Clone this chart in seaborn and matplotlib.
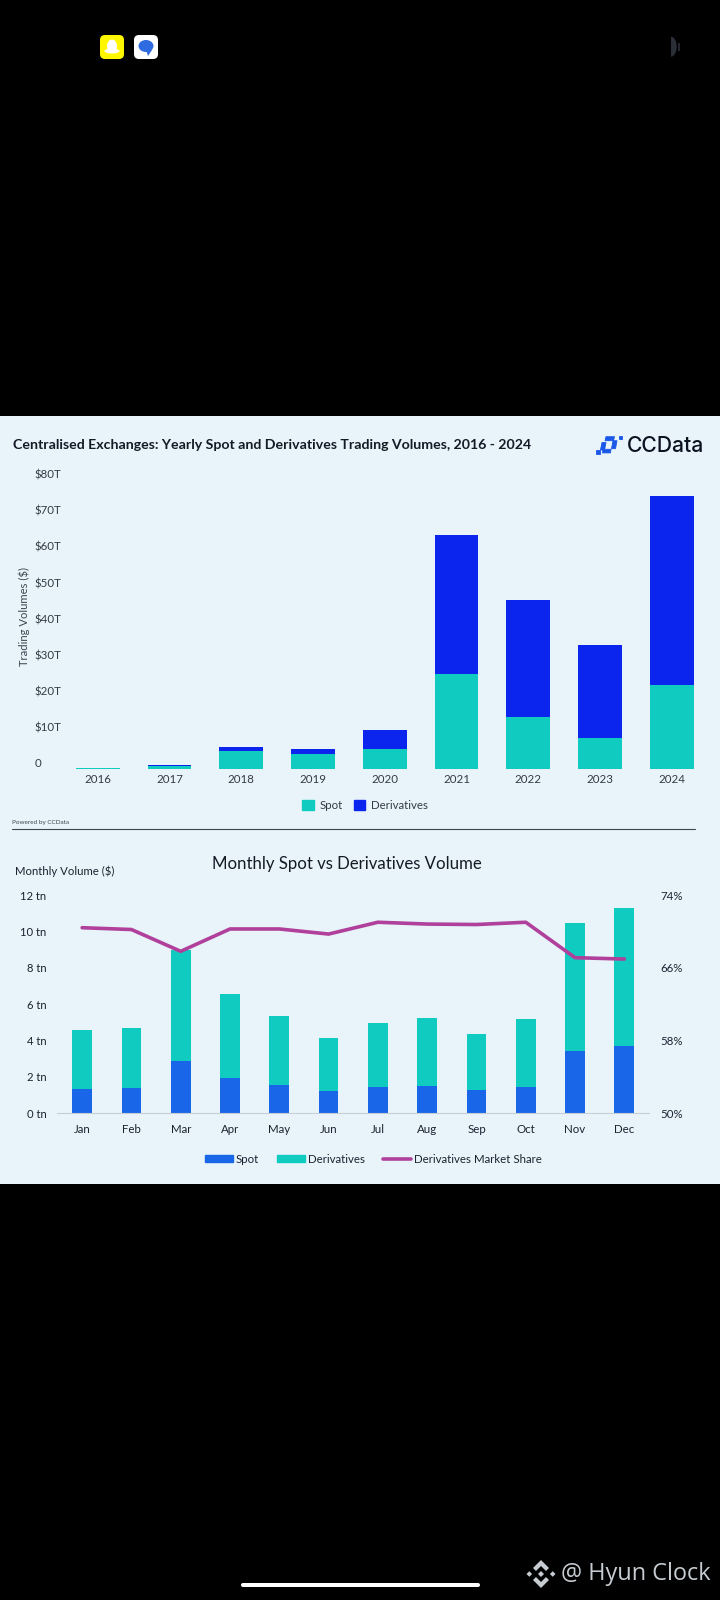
import matplotlib
matplotlib.use('Agg')
import matplotlib.pyplot as plt
import numpy as np
import seaborn as sns
from matplotlib.lines import Line2D
from matplotlib.patches import Rectangle, FancyBboxPatch, Ellipse, Polygon
from matplotlib.transforms import ScaledTranslation

# Yearly chart data (trillions of $)
years = ['2016', '2017', '2018', '2019', '2020', '2021', '2022', '2023', '2024']
yearly_spot = [0.4, 0.8, 5.1, 4.2, 5.6, 26.4, 14.5, 8.7, 23.4]
yearly_derivatives = [0.0, 0.4, 1.0, 1.3, 5.2, 38.6, 32.5, 25.7, 52.5]
yearly_ticks = [0, 10, 20, 30, 40, 50, 60, 70, 80]
yearly_tick_labels = ['0', '$10T', '$20T', '$30T', '$40T', '$50T', '$60T', '$70T', '$80T']

# Monthly chart data (trillions of $, share in %)
months = ['Jan', 'Feb', 'Mar', 'Apr', 'May', 'Jun', 'Jul', 'Aug', 'Sep', 'Oct', 'Nov', 'Dec']
monthly_spot = [1.34, 1.39, 2.88, 1.93, 1.56, 1.23, 1.41, 1.50, 1.25, 1.45, 3.43, 3.69]
monthly_derivatives = [3.23, 3.29, 6.12, 4.62, 3.76, 2.90, 3.54, 3.73, 3.08, 3.72, 7.05, 7.58]
market_share = [70.4, 70.2, 67.8, 70.26, 70.26, 69.7, 71.0, 70.8, 70.75, 71.0, 67.1, 66.95]
volume_ticks = [0, 2, 4, 6, 8, 10, 12]
volume_tick_labels = ['0 tn', '2 tn', '4 tn', '6 tn', '8 tn', '10 tn', '12 tn']
share_ticks = [50, 58, 66, 74]
share_tick_labels = ['50%', '58%', '66%', '74%']

TEAL = '#10CBC0'
NAVY = '#0B25EE'
BLUE = '#1A66E8'
PURPLE = '#B0409C'
PANEL = '#E8F4FA'
INK = '#1c2230'
W, H = 720, 1600

sns.set_theme(style='white')
plt.rcParams['font.family'] = ['Lato', 'DejaVu Sans']

fig = plt.figure(figsize=(7.2, 16), dpi=100, facecolor='black')


# Pixel helpers, measured from the top left of the screenshot
def fx(x):
	return x / W


def fy(y):
	return 1 - y / H


def px_axes(left, top, right, bottom):
	ax = fig.add_axes([fx(left), fy(bottom), (right - left) / W, (bottom - top) / H])
	ax.set_facecolor('none')
	return ax


def put_text(x, y, s, size, **kwargs):
	kwargs.setdefault('color', INK)
	kwargs.setdefault('va', 'center')
	fig.text(fx(x), fy(y), s, fontsize=size, **kwargs)


def put_shape(patch):
	patch.set_transform(overlay.transData)
	overlay.add_patch(patch)


# Screen panel behind both charts
fig.add_artist(Rectangle((0, fy(1184)), 1, (1184 - 416) / H, transform=fig.transFigure,
						 facecolor=PANEL, edgecolor='none', zorder=-1))

# ----------------------------------------------Yearly chart-----------------------------------------------
ax1 = px_axes(61.9, 481, 707.6, 769.3)
yearly_total = np.array(yearly_spot) + np.array(yearly_derivatives)
sns.barplot(x=years, y=yearly_total, color=NAVY, width=0.608, saturation=1, linewidth=0, ax=ax1)
sns.barplot(x=years, y=yearly_spot, color=TEAL, width=0.608, saturation=1, linewidth=0, ax=ax1)
ax1.set_ylim(0, 80)
ax1.set_yticks(yearly_ticks)
ax1.set_yticklabels(yearly_tick_labels, ha='left')
ax1.tick_params(axis='y', length=0, pad=19.8, labelsize=8.3, labelcolor='#333a45')
ax1.tick_params(axis='x', length=0, pad=3.4, labelsize=8.3, labelcolor='#333a45')
# the value labels sit a little above their gridline in the original
for label in ax1.get_yticklabels():
	label.set_transform(label.get_transform() + ScaledTranslation(0, 6.6 / 100, fig.dpi_scale_trans))
sns.despine(ax=ax1, left=True, bottom=True)
ax1.set_xlabel('')
ax1.set_ylabel('')

ax1.legend(handles=[Rectangle((0, 0), 1, 1, color=TEAL, label='Spot'),
					Rectangle((0, 0), 1, 1, color=NAVY, label='Derivatives')],
		   ncol=2, frameon=False, fontsize=8.3, handlelength=1.0, handleheight=1.0, handletextpad=0.45,
		   columnspacing=1.0, loc='center', bbox_to_anchor=(fx(365), fy(805.7)),
		   bbox_transform=fig.transFigure, labelcolor='#333a45')

put_text(13, 445, 'Centralised Exchanges: Yearly Spot and Derivatives Trading Volumes, 2016 - 2024',
		 10.2, fontweight='bold', color='#141a26')
put_text(24, 617, 'Trading Volumes ($)', 8.1, rotation=90, ha='center', color='#3c4450')
put_text(627, 446.5, 'CCData', 15.2, color='#0d1220', fontweight='medium', family=['Inter', 'DejaVu Sans'])
put_text(12.5, 822, 'Powered by CCData', 4.6, color='#3c4450')

# ----------------------------------------------Monthly chart-----------------------------------------------
ax2 = px_axes(57.5, 895, 649, 1113)
monthly_total = np.array(monthly_spot) + np.array(monthly_derivatives)
sns.barplot(x=months, y=monthly_total, color=TEAL, width=0.4, saturation=1, linewidth=0, ax=ax2)
sns.barplot(x=months, y=monthly_spot, color=BLUE, width=0.4, saturation=1, linewidth=0, ax=ax2)
ax2.set_ylim(0, 12)
ax2.set_xlim(-0.5, 11.5)
ax2.set_yticks(volume_ticks)
ax2.set_yticklabels(volume_tick_labels)
ax2.tick_params(axis='y', length=0, pad=8, labelsize=8.1, labelcolor=INK)
ax2.tick_params(axis='x', length=0, pad=7.6, labelsize=8.3, labelcolor=INK)
sns.despine(ax=ax2, left=True)
ax2.spines['bottom'].set_color('#c5ced6')
ax2.spines['bottom'].set_linewidth(0.8)
ax2.set_xlabel('')
ax2.set_ylabel('')

ax3 = ax2.twinx()
ax3.set_facecolor('none')
sns.lineplot(x=months, y=market_share, color=PURPLE, linewidth=2.6, sort=False, ax=ax3,
			 solid_capstyle='round', solid_joinstyle='round')
ax3.set_xlim(-0.5, 11.5)
ax3.set_ylim(50, 74)
ax3.set_yticks(share_ticks)
ax3.set_yticklabels(share_tick_labels, ha='left')
ax3.tick_params(axis='y', length=0, pad=8, labelsize=8.3, labelcolor=INK)
sns.despine(ax=ax3, left=True, right=True, bottom=True)
ax3.set_xlabel('')
ax3.set_ylabel('')

ax2.legend(handles=[Rectangle((0, 0), 1, 1, color=BLUE, label='Spot'),
					Rectangle((0, 0), 1, 1, color=TEAL, label='Derivatives'),
					Line2D([0], [0], color=PURPLE, linewidth=2.6, label='Derivatives Market Share')],
		   ncol=3, frameon=False, fontsize=8.3, handlelength=2.4, handleheight=0.5, handletextpad=0.3,
		   columnspacing=1.55, loc='center', bbox_to_anchor=(fx(373.5), fy(1159.3)),
		   bbox_transform=fig.transFigure, labelcolor=INK)

put_text(212, 864, 'Monthly Spot vs Derivatives Volume', 12.05, color='#141a26')
put_text(14.7, 871, 'Monthly Volume ($)', 8.2)

# Divider between the two charts
fig.add_artist(Line2D([fx(11.5), fx(695)], [fy(829), fy(829)], color='#3c4450', linewidth=0.8))

# ----------------------------------------------Logos and phone chrome-----------------------------------------------
overlay = fig.add_axes([0, 0, 1, 1], zorder=5)
overlay.set_xlim(0, W)
overlay.set_ylim(H, 0)
overlay.axis('off')

# CCData logo blocks
logo_blocks = [
	[(596, 450), (599.5, 450), (599.5, 453.5), (596, 453.5)],
	[(602, 442.5), (606, 442.5), (604.5, 450), (600.5, 450)],
	[(606, 436.7), (614.5, 436.7), (613.5, 440.7), (605, 440.7)],
	[(603, 449.3), (611, 449.3), (610.5, 452.9), (602.5, 452.9)],
	[(613, 440.7), (617, 440.7), (615.5, 448.7), (611.5, 448.7)],
	[(618.7, 436), (621.5, 436), (621.5, 438.8), (618.7, 438.8)],
]
for block in logo_blocks:
	put_shape(Polygon(block, facecolor='#1A57E8', edgecolor='#1A57E8', linewidth=0.6))

# Status bar app icons
put_shape(FancyBboxPatch((103, 38), 18, 18, boxstyle='round,pad=3,rounding_size=5', facecolor='#FFF700', edgecolor='none'))
put_shape(Ellipse((112, 46), 10, 13, facecolor='white', edgecolor='none'))
put_shape(Ellipse((112, 51), 15, 5, facecolor='white', edgecolor='none'))
put_shape(FancyBboxPatch((137, 38), 18, 18, boxstyle='round,pad=3,rounding_size=5', facecolor='white', edgecolor='none'))
put_shape(Ellipse((146, 46), 15, 12, facecolor='#2F6BE0', edgecolor='none'))
put_shape(Polygon([(146, 50), (152, 50), (148, 56)], facecolor='#2F6BE0', edgecolor='none'))

# Battery glyph at the right of the status bar
angles = np.linspace(-np.pi / 2, np.pi / 2, 30)
put_shape(Polygon(np.column_stack([671 + 5.7 * np.cos(angles), 46.7 + 10 * np.sin(angles)]),
				  facecolor='#2a2f38', edgecolor='none'))
put_shape(Rectangle((677.7, 43), 2.3, 8, facecolor='#22262e', edgecolor='none'))

# Home bar and watermark
put_shape(FancyBboxPatch((241, 1583), 239, 4, boxstyle='round,pad=0,rounding_size=2', facecolor='white', edgecolor='none'))
WATERMARK = '#c6ccd2'
for cx, cy, r in [(541, 1574, 3), (529.3, 1574, 2.8), (552.7, 1574, 2.8)]:
	put_shape(Polygon([(cx - r, cy), (cx, cy - r), (cx + r, cy), (cx, cy + r)], facecolor=WATERMARK, edgecolor='none'))
put_shape(Polygon([(541, 1560), (549, 1568), (546, 1571), (541, 1566), (536, 1571), (533, 1568)], facecolor=WATERMARK, edgecolor='none'))
put_shape(Polygon([(541, 1588), (549, 1580), (546, 1577), (541, 1582), (536, 1577), (533, 1580)], facecolor=WATERMARK, edgecolor='none'))
put_text(561, 1574, '@ Hyun Clock', 16.9, color=WATERMARK, family=['Open Sans', 'DejaVu Sans'], zorder=6)

fig.savefig('out.png', dpi=100, facecolor=fig.get_facecolor())
